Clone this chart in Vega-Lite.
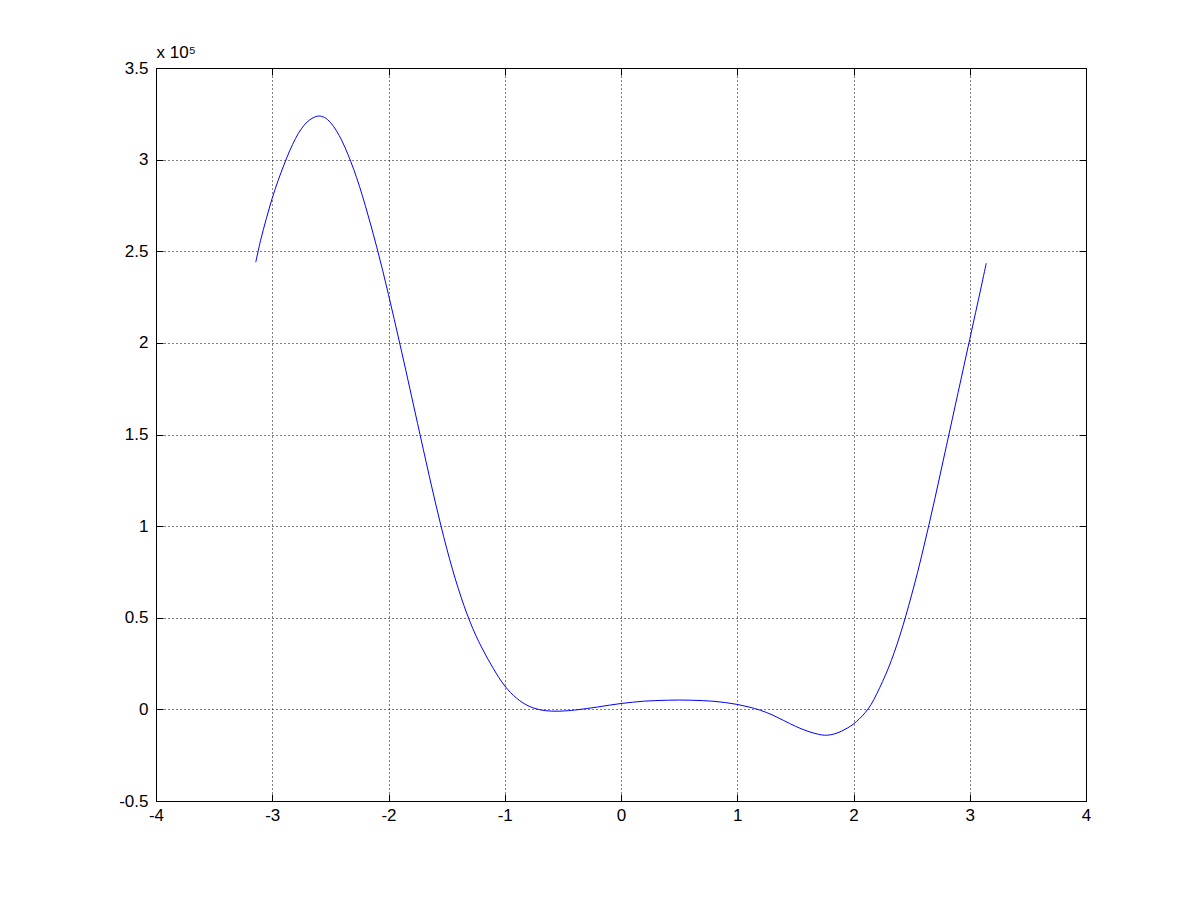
{
  "$schema": "https://vega.github.io/schema/vega-lite/v6.json",
  "autosize": "none",
  "width": 930,
  "height": 733,
  "padding": {"left": 156, "top": 68, "right": 114, "bottom": 99},
  "background": "white",
  "config": {
    "view": {"stroke": "black", "strokeWidth": 1},
    "font": "Liberation Sans",
    "axis": {
      "labelFont": "Liberation Sans",
      "labelFontSize": 17,
      "labelColor": "black",
      "domainColor": "black",
      "tickColor": "black",
      "gridColor": "black",
      "gridDash": [1, 3],
      "gridOpacity": 1,
      "tickSize": -7,
      "tickWidth": 1,
      "domainWidth": 1
    }
  },
  "data": {
    "values": [
      {"x": -3.142, "y": 244000},
      {"x": -3.1, "y": 256000},
      {"x": -3.05, "y": 268000},
      {"x": -3.0, "y": 279000},
      {"x": -2.95, "y": 288500},
      {"x": -2.9, "y": 297000},
      {"x": -2.85, "y": 304800},
      {"x": -2.8, "y": 311500},
      {"x": -2.75, "y": 316800},
      {"x": -2.7, "y": 320500},
      {"x": -2.65, "y": 322800},
      {"x": -2.6, "y": 323800},
      {"x": -2.55, "y": 323000},
      {"x": -2.5, "y": 320300},
      {"x": -2.45, "y": 316000},
      {"x": -2.4, "y": 310200},
      {"x": -2.35, "y": 303000},
      {"x": -2.3, "y": 294800},
      {"x": -2.25, "y": 285500},
      {"x": -2.2, "y": 275000},
      {"x": -2.15, "y": 263800},
      {"x": -2.1, "y": 252000},
      {"x": -2.05, "y": 239500},
      {"x": -2.0, "y": 226300},
      {"x": -1.95, "y": 212700},
      {"x": -1.9, "y": 198800},
      {"x": -1.85, "y": 184700},
      {"x": -1.8, "y": 170400},
      {"x": -1.75, "y": 156000},
      {"x": -1.7, "y": 141700},
      {"x": -1.65, "y": 127500},
      {"x": -1.6, "y": 113700},
      {"x": -1.55, "y": 100500},
      {"x": -1.5, "y": 88000},
      {"x": -1.45, "y": 76500},
      {"x": -1.4, "y": 66000},
      {"x": -1.35, "y": 56500},
      {"x": -1.3, "y": 48000},
      {"x": -1.25, "y": 40500},
      {"x": -1.2, "y": 34000},
      {"x": -1.15, "y": 28000},
      {"x": -1.1, "y": 22500},
      {"x": -1.05, "y": 17300},
      {"x": -1.0, "y": 12800},
      {"x": -0.95, "y": 9200},
      {"x": -0.9, "y": 6200},
      {"x": -0.85, "y": 3800},
      {"x": -0.8, "y": 2000},
      {"x": -0.75, "y": 700},
      {"x": -0.7, "y": -200},
      {"x": -0.65, "y": -700},
      {"x": -0.6, "y": -950},
      {"x": -0.55, "y": -1000},
      {"x": -0.5, "y": -900},
      {"x": -0.4, "y": -400},
      {"x": -0.3, "y": 400},
      {"x": -0.2, "y": 1300},
      {"x": -0.1, "y": 2300},
      {"x": 0.0, "y": 3200},
      {"x": 0.1, "y": 3900},
      {"x": 0.2, "y": 4500},
      {"x": 0.3, "y": 4800},
      {"x": 0.4, "y": 5000},
      {"x": 0.5, "y": 5100},
      {"x": 0.6, "y": 5000},
      {"x": 0.7, "y": 4800},
      {"x": 0.8, "y": 4400},
      {"x": 0.9, "y": 3700},
      {"x": 1.0, "y": 2700},
      {"x": 1.1, "y": 1300},
      {"x": 1.2, "y": -500},
      {"x": 1.3, "y": -3000},
      {"x": 1.4, "y": -6100},
      {"x": 1.5, "y": -9200},
      {"x": 1.6, "y": -11800},
      {"x": 1.7, "y": -13600},
      {"x": 1.75, "y": -14100},
      {"x": 1.8, "y": -13900},
      {"x": 1.85, "y": -13100},
      {"x": 1.9, "y": -11800},
      {"x": 1.95, "y": -10100},
      {"x": 2.0, "y": -8000},
      {"x": 2.05, "y": -5200},
      {"x": 2.1, "y": -1800},
      {"x": 2.15, "y": 2500},
      {"x": 2.2, "y": 8500},
      {"x": 2.25, "y": 15200},
      {"x": 2.3, "y": 22500},
      {"x": 2.35, "y": 31000},
      {"x": 2.4, "y": 40500},
      {"x": 2.45, "y": 51000},
      {"x": 2.5, "y": 62500},
      {"x": 2.55, "y": 74500},
      {"x": 2.6, "y": 87500},
      {"x": 2.65, "y": 101000},
      {"x": 2.7, "y": 115000},
      {"x": 2.75, "y": 129500},
      {"x": 2.8, "y": 144000},
      {"x": 2.85, "y": 158500},
      {"x": 2.9, "y": 173000},
      {"x": 2.95, "y": 187500},
      {"x": 3.0, "y": 202000},
      {"x": 3.05, "y": 216500},
      {"x": 3.1, "y": 231000},
      {"x": 3.142, "y": 243500}
    ]
  },
  "resolve": {"axis": {"x": "independent", "y": "independent"}},
  "layer": [
    {
      "mark": {"type": "line", "color": "#0000ff", "strokeWidth": 1, "interpolate": "catmull-rom"},
      "encoding": {
        "x": {
          "field": "x", "type": "quantitative",
          "scale": {"domain": [-4, 4], "nice": false, "zero": false},
          "axis": {
            "orient": "bottom", "values": [-4, -3, -2, -1, 0, 1, 2, 3, 4],
            "grid": true, "title": null, "labelPadding": 13,
            "labelExpr": "'' + datum.value", "labelFlush": false
          }
        },
        "y": {
          "field": "y", "type": "quantitative",
          "scale": {"domain": [-50000, 350000], "nice": false, "zero": false},
          "axis": {
            "orient": "left",
            "values": [-50000, 0, 50000, 100000, 150000, 200000, 250000, 300000, 350000],
            "grid": true, "labelPadding": 15,
            "labelExpr": "'' + (datum.value / 100000)", "labelFlush": false,
            "title": "x 10⁵", "titleAngle": 0, "titleAlign": "left",
            "titleBaseline": "alphabetic", "titleX": 0, "titleY": -11,
            "titleFont": "Liberation Sans", "titleFontSize": 17, "titleFontWeight": "normal",
            "titleColor": "black"
          }
        }
      }
    },
    {
      "mark": {"type": "line", "strokeOpacity": 0},
      "encoding": {
        "x": {
          "field": "x", "type": "quantitative",
          "scale": {"domain": [-4, 4], "nice": false, "zero": false},
          "axis": {
            "orient": "top", "values": [-4, -3, -2, -1, 0, 1, 2, 3, 4],
            "grid": false, "labels": false, "title": null
          }
        },
        "y": {
          "field": "y", "type": "quantitative",
          "scale": {"domain": [-50000, 350000], "nice": false, "zero": false},
          "axis": {
            "orient": "right",
            "values": [-50000, 0, 50000, 100000, 150000, 200000, 250000, 300000, 350000],
            "grid": false, "labels": false, "title": null
          }
        }
      }
    }
  ]
}
